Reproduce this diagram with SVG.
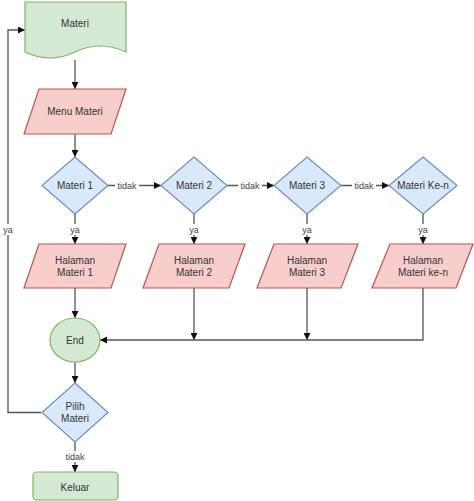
<svg xmlns="http://www.w3.org/2000/svg" width="474" height="501" viewBox="0 0 474 501">
<style>
text{font-family:"Liberation Sans",Arial,sans-serif;font-size:10px;fill:#333;text-anchor:middle;dominant-baseline:central}
.lbl{font-size:9px;fill:#444}
.green{fill:#d5e8d4;stroke:#82b366;stroke-width:1.2}
.pink{fill:#f8cecc;stroke:#b85450;stroke-width:1.2}
.blue{fill:#dae8fc;stroke:#6c8ebf;stroke-width:1.2}
.edge{fill:none;stroke:#555;stroke-width:1.3}
.bg{fill:#fff;stroke:none}
</style>
<defs>
<marker id="arr" viewBox="0 0 10 10" refX="10" refY="5" markerWidth="7" markerHeight="7" orient="auto" markerUnits="userSpaceOnUse">
<path d="M0,0 L10,5 L0,10 Z" fill="#111"/>
</marker>
</defs>
<rect width="474" height="501" fill="#fff"/>
<g id="connectors">
<path class="edge" d="M75,60 V89" marker-end="url(#arr)"/>
<path class="edge" d="M75,134 V157" marker-end="url(#arr)"/>
<path class="edge" d="M108,185.5 H161" marker-end="url(#arr)"/>
<path class="edge" d="M227,185.5 H274" marker-end="url(#arr)"/>
<path class="edge" d="M341,185.5 H389" marker-end="url(#arr)"/>
<path class="edge" d="M75,214 V244" marker-end="url(#arr)"/>
<path class="edge" d="M194,214 V244" marker-end="url(#arr)"/>
<path class="edge" d="M307,214 V244" marker-end="url(#arr)"/>
<path class="edge" d="M423,214 V244" marker-end="url(#arr)"/>
<path class="edge" d="M75,288 V318" marker-end="url(#arr)"/>
<path class="edge" d="M194,288 V340" marker-end="url(#arr)"/>
<path class="edge" d="M307,288 V340" marker-end="url(#arr)"/>
<path class="edge" d="M423,288 V340 H100" marker-end="url(#arr)"/>
<path class="edge" d="M75,362 V383" marker-end="url(#arr)"/>
<path class="edge" d="M41,412.5 H8 V30 H25" marker-end="url(#arr)"/>
<path class="edge" d="M75,442 V472" marker-end="url(#arr)"/>
<rect class="bg" x="115" y="180" width="24" height="11"/>
<text class="lbl" x="127" y="185.5">tidak</text>
<rect class="bg" x="238" y="180" width="24" height="11"/>
<text class="lbl" x="250" y="185.5">tidak</text>
<rect class="bg" x="352" y="180" width="24" height="11"/>
<text class="lbl" x="364" y="185.5">tidak</text>
<rect class="bg" x="68" y="224" width="14" height="11"/>
<text class="lbl" x="75" y="229.5">ya</text>
<rect class="bg" x="187" y="224" width="14" height="11"/>
<text class="lbl" x="194" y="229.5">ya</text>
<rect class="bg" x="300" y="224" width="14" height="11"/>
<text class="lbl" x="307" y="229.5">ya</text>
<rect class="bg" x="416" y="224" width="14" height="11"/>
<text class="lbl" x="423" y="229.5">ya</text>
<rect class="bg" x="1" y="224" width="14" height="11"/>
<text class="lbl" x="8" y="229.5">ya</text>
<rect class="bg" x="63" y="451" width="24" height="11"/>
<text class="lbl" x="75" y="456.5">tidak</text>
</g>
<g id="materi-doc">
<path class="green" d="M25,2 H126 V52 Q100,40 75,52 Q50,64 25,52 Z"/>
<text x="75" y="23">Materi</text>
</g>
<g id="menu-materi">
<polygon class="pink" points="39,89 126,89 111,134 24,134"/>
<text x="75" y="111.5">Menu Materi</text>
</g>
<g id="materi-1">
<polygon class="blue" points="75,157 108,185.5 75,214 42,185.5"/>
<text x="75" y="185.5">Materi 1</text>
</g>
<g id="materi-2">
<polygon class="blue" points="194,157 227,185.5 194,214 161,185.5"/>
<text x="194" y="185.5">Materi 2</text>
</g>
<g id="materi-3">
<polygon class="blue" points="307,157 341,185.5 307,214 274,185.5"/>
<text x="307" y="185.5">Materi 3</text>
</g>
<g id="materi-ke-n">
<polygon class="blue" points="423,157 457,185.5 423,214 389,185.5"/>
<text x="423" y="185.5">Materi Ke-n</text>
</g>
<g id="halaman-1">
<polygon class="pink" points="39,244 126,244 111,288 24,288"/>
<text x="75" y="260">Halaman</text>
<text x="75" y="272">Materi 1</text>
</g>
<g id="halaman-2">
<polygon class="pink" points="159,244 245,244 229,288 143,288"/>
<text x="194" y="260">Halaman</text>
<text x="194" y="272">Materi 2</text>
</g>
<g id="halaman-3">
<polygon class="pink" points="274,244 358,244 341,288 257,288"/>
<text x="307" y="260">Halaman</text>
<text x="307" y="272">Materi 3</text>
</g>
<g id="halaman-ke-n">
<polygon class="pink" points="390,244 473,244 456,288 372,288"/>
<text x="423" y="260">Halaman</text>
<text x="423" y="272">Materi ke-n</text>
</g>
<g id="end">
<ellipse class="green" cx="75" cy="340" rx="25" ry="22"/>
<text x="75" y="340">End</text>
</g>
<g id="pilih-materi">
<polygon class="blue" points="75,383 108,412.5 75,442 42,412.5"/>
<text x="75" y="406">Pilih</text>
<text x="75" y="418">Materi</text>
</g>
<g id="keluar">
<rect class="green" x="33" y="472" width="85" height="28" rx="4"/>
<text x="75" y="487">Keluar</text>
</g>
</svg>
